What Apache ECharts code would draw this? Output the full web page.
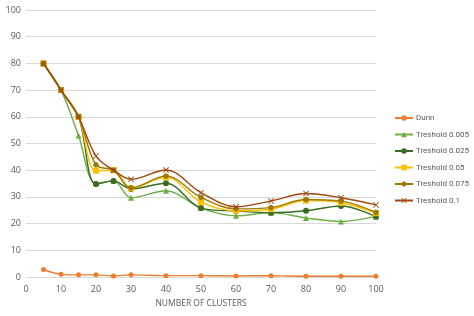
<!DOCTYPE html>
<html>
<head>
<meta charset="utf-8">
<script src="https://cdn.jsdelivr.net/npm/echarts@6/dist/echarts.min.js"></script>
<style>
  html, body { margin: 0; padding: 0; background: #fff; }
  #chart { width: 474px; height: 316px; }
</style>
</head>
<body>
<div id="chart"></div>
<script>
// cluster counts (x axis)
var clusters = [5, 10, 15, 20, 25, 30, 40, 50, 60, 70, 80, 90, 100];

// values
var dunn  = [2.8, 1.0, 0.8, 0.8, 0.4, 0.8, 0.5, 0.5, 0.4, 0.5, 0.3, 0.3, 0.3];
var t005  = [80, 70, 53, 35, 36, 29.7, 32.3, 25.8, 22.9, 24.1, 22.1, 20.8, 22.7];
var t025  = [80, 70, 60, 34.8, 36, 33, 35.1, 25.8, 24.7, 24.1, 24.8, 26.6, 22.6];
var t05   = [80, 70, 60, 39.8, 40, 33.2, 37.3, 28, 24.8, 25.4, 28.6, 27.8, 23.9];
var t075  = [80, 70, 60, 42, 40, 33.4, 37.8, 29.8, 25.5, 26, 29, 28.4, 24.2];
var t01   = [80, 70, 60, 45.3, 40, 36.6, 40.1, 31.6, 26.3, 28.5, 31.3, 29.7, 27];

var names = ['Dunn', 'Treshold 0.005', 'Treshold 0.025', 'Treshold 0.05', 'Treshold 0.075', 'Treshold 0.1'];
var colors = ['#ED7D31', '#70AD47', '#3A6B22', '#FFC000', '#9C7A00', '#9E480E'];
var symbols = ['circle', 'triangle', 'circle', 'rect',
  'path://M0,4 L4,0 L5,1 L6,0 L10,4 L9,5 L10,6 L6,10 L5,9 L4,10 L0,6 L1,5 Z',
  'path://M1,0 L5,4 L9,0 L10,1 L6,5 L10,9 L9,10 L5,6 L1,10 L0,9 L4,5 L0,1 Z'];
var values = [dunn, t005, t025, t05, t075, t01];

function pairs(arr) {
  var out = [];
  for (var i = 0; i < clusters.length; i++) {
    out.push([clusters[i], arr[i]]);
  }
  return out;
}

var series = [];
for (var k = 0; k < names.length; k++) {
  series.push({
    name: names[k],
    type: 'line',
    smooth: 0.35,
    data: pairs(values[k]),
    symbol: symbols[k],
    symbolSize: k == 0 ? 5 : 6,
    lineStyle: { color: colors[k], width: 1.4 },
    itemStyle: { color: colors[k] },
    z: 2 + k
  });
}

var chart = echarts.init(document.getElementById('chart'), null, { renderer: 'canvas' });
chart.setOption({
  animation: false,
  backgroundColor: '#ffffff',
  color: colors,
  grid: { left: 26, right: 98, top: 10, bottom: 39 },
  legend: {
    orient: 'vertical',
    left: 394,
    top: 114,
    padding: 0,
    itemWidth: 18,
    itemHeight: 7,
    itemGap: 8.5,
    textStyle: { color: '#595959', fontSize: 8, fontFamily: 'Roboto', padding: [0, 0, 0, -2] },
    data: names
  },
  xAxis: {
    type: 'value',
    min: 0,
    max: 100,
    interval: 10,
    name: 'NUMBER OF CLUSTERS',
    nameLocation: 'middle',
    nameGap: 19,
    nameTextStyle: { color: '#595959', fontSize: 8.5, fontFamily: 'Open Sans' },
    axisLine: { show: true, lineStyle: { color: '#d9d9d9' } },
    axisTick: { show: false },
    splitLine: { show: false },
    axisLabel: { color: '#595959', fontSize: 9, margin: 8, fontFamily: 'Open Sans' }
  },
  yAxis: {
    type: 'value',
    min: 0,
    max: 100,
    interval: 10,
    axisLine: { show: false },
    axisTick: { show: false },
    splitLine: { lineStyle: { color: '#d9d9d9' } },
    axisLabel: { color: '#595959', fontSize: 9, margin: 5, fontFamily: 'Open Sans' }
  },
  series: series
});
</script>
</body>
</html>
